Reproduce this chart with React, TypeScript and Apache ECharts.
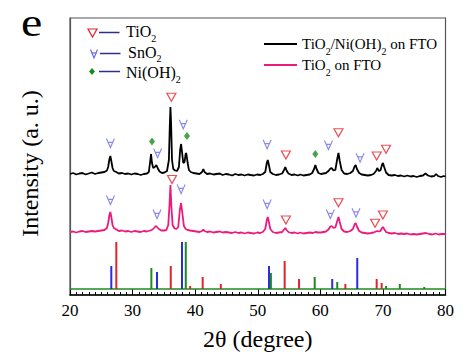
import React, { useEffect, useRef } from 'react';
import * as echarts from 'echarts';

const F = "'Liberation Serif', 'Times New Roman', serif";

// 2θ (degree), intensity (a.u.) — TiO2/Ni(OH)2 on FTO
const blackCurve: number[][] = [
  [20.0, 121], [20.5, 122], [21.0, 120.5], [21.5, 121.5], [22.0, 122], [22.5, 120.5], [23.0, 121.5], [23.5, 122.5],
  [24.0, 121], [24.5, 122], [25.0, 122.5], [25.5, 123], [25.9, 124.5], [26.1, 128], [26.3, 136], [26.45, 139],
  [26.6, 134], [26.8, 127], [27.0, 124], [27.4, 123], [27.8, 121.5], [28.3, 122], [28.8, 121], [29.3, 121.5],
  [29.8, 120.5], [30.3, 121.5], [30.8, 121], [31.3, 120], [31.8, 121], [32.3, 121.5], [32.6, 123], [32.8, 133],
  [32.95, 141], [33.1, 132], [33.3, 127], [33.55, 128], [33.8, 130], [34.0, 127], [34.3, 123.5], [34.7, 122],
  [35.1, 122.5], [35.5, 124], [35.8, 135], [35.95, 170], [36.05, 188], [36.15, 172], [36.3, 135], [36.5, 126],
  [36.8, 124.5], [37.1, 124], [37.4, 128], [37.6, 145], [37.75, 151], [37.9, 143], [38.1, 132], [38.3, 133],
  [38.5, 142], [38.6, 141], [38.8, 132], [39.0, 125], [39.3, 123], [39.7, 122], [40.2, 121.5], [40.7, 121],
  [41.1, 123], [41.3, 126], [41.5, 123], [41.9, 121], [42.4, 121.5], [42.9, 120.5], [43.4, 121], [43.9, 121.5],
  [44.4, 120], [44.9, 121], [45.4, 120.5], [45.9, 119.5], [46.4, 121], [46.9, 120], [47.4, 120.5], [47.9, 119.5],
  [48.4, 120.5], [48.9, 120], [49.4, 119.5], [49.9, 120.5], [50.4, 120], [50.8, 121], [51.2, 123], [51.45, 132],
  [51.6, 135], [51.75, 131], [52.0, 123], [52.4, 121], [52.9, 120], [53.4, 120.5], [53.9, 121.5], [54.2, 125],
  [54.4, 128], [54.6, 124.5], [54.9, 121.5], [55.4, 120], [55.9, 120.5], [56.4, 119.5], [56.8, 120.5], [57.3, 119.5],
  [57.8, 120], [58.3, 120.5], [58.7, 122], [59.0, 126], [59.2, 130], [59.4, 126], [59.7, 122], [60.1, 121],
  [60.5, 121.5], [60.9, 122], [61.3, 124], [61.6, 126.5], [61.8, 127], [62.1, 124.5], [62.4, 125], [62.7, 136],
  [62.9, 142], [63.1, 134], [63.4, 125], [63.8, 121.5], [64.3, 121], [64.8, 122], [65.2, 124], [65.5, 129],
  [65.65, 130], [65.85, 126], [66.2, 122], [66.6, 120.5], [67.1, 120], [67.6, 119.5], [68.1, 120], [68.5, 121],
  [68.9, 124], [69.1, 127], [69.35, 124], [69.6, 124.5], [69.85, 130], [70.0, 132], [70.2, 128], [70.5, 122.5],
  [70.9, 120], [71.4, 119.5], [71.9, 120], [72.4, 119], [72.9, 119.5], [73.4, 118.5], [73.9, 119.5], [74.4, 118.5],
  [74.9, 119], [75.4, 118], [75.9, 119], [76.4, 119.5], [76.8, 121.5], [77.2, 119.5], [77.7, 118.5], [78.2, 119],
  [78.5, 121], [78.8, 119], [79.3, 118], [79.7, 119], [80.0, 118.5],
];

// TiO2 on FTO
const pinkCurve: number[][] = [
  [20.0, 63], [20.5, 63.5], [21.0, 62.5], [21.5, 63.5], [22.0, 64], [22.5, 63], [23.0, 63.5], [23.5, 64],
  [24.0, 63.5], [24.5, 64], [25.0, 64.5], [25.5, 65], [25.9, 67], [26.1, 72], [26.3, 80], [26.45, 83],
  [26.6, 78], [26.8, 70], [27.0, 67], [27.4, 65.5], [27.8, 64], [28.3, 64.5], [28.8, 63.5], [29.3, 64],
  [29.8, 63], [30.3, 64], [30.8, 63.5], [31.3, 63], [31.8, 64], [32.3, 63.5], [32.8, 64.5], [33.2, 65.5],
  [33.5, 67.5], [33.7, 69], [33.9, 68], [34.2, 66], [34.6, 64.5], [35.0, 64.5], [35.4, 65], [35.7, 70],
  [35.9, 90], [36.05, 110], [36.2, 88], [36.4, 70], [36.7, 66.5], [37.0, 66], [37.3, 68], [37.55, 85],
  [37.75, 92], [37.95, 82], [38.2, 69], [38.5, 66], [38.8, 65], [39.2, 64.5], [39.7, 64], [40.2, 63.5],
  [40.7, 63], [41.1, 64], [41.3, 65.5], [41.5, 64], [41.9, 63], [42.4, 63.5], [42.9, 62.5], [43.4, 63],
  [43.9, 63.5], [44.4, 62.5], [44.9, 63], [45.4, 62.5], [45.9, 62], [46.4, 63], [46.9, 62], [47.4, 62.5],
  [47.9, 61.5], [48.4, 62.5], [48.9, 62], [49.4, 61.5], [49.9, 62.5], [50.4, 62], [50.8, 63], [51.2, 66],
  [51.45, 75], [51.6, 78], [51.75, 74], [52.0, 66], [52.4, 63], [52.9, 62], [53.4, 62.5], [53.9, 63],
  [54.2, 65.5], [54.4, 67], [54.6, 65], [54.9, 63], [55.4, 62], [55.9, 62.5], [56.4, 61.5], [56.8, 62.5],
  [57.3, 61.5], [57.8, 62], [58.3, 62.5], [58.8, 62], [59.2, 63], [59.6, 62.5], [60.1, 62.5], [60.5, 63],
  [60.9, 63.5], [61.3, 65.5], [61.6, 68.5], [61.8, 69], [62.1, 67], [62.4, 67.5], [62.7, 74], [62.9, 78],
  [63.1, 73], [63.4, 66], [63.8, 63.5], [64.3, 63], [64.8, 64], [65.2, 66], [65.5, 71], [65.65, 72],
  [65.85, 68.5], [66.2, 64], [66.6, 62.5], [67.1, 62], [67.6, 61.5], [68.1, 62], [68.5, 62.5], [68.9, 63.5],
  [69.1, 64], [69.35, 63.5], [69.6, 64], [69.85, 67], [70.0, 68], [70.2, 66], [70.5, 63], [70.9, 62],
  [71.4, 61.5], [71.9, 62], [72.4, 61], [72.9, 61.5], [73.4, 61], [73.9, 61.5], [74.4, 60.5], [74.9, 61],
  [75.4, 60.5], [75.9, 61], [76.4, 61.5], [76.9, 62], [77.4, 61], [77.9, 60.5], [78.4, 61.5], [78.9, 60.5],
  [79.4, 61], [80.0, 61],
];

// reference pattern sticks [2θ, relative height]
const stickBase = 6;
const tio2Sticks: number[][] = [
  [27.4, 53], [36.1, 29], [39.2, 9], [41.2, 18], [44.1, 11], [54.3, 34], [56.6, 16], [64.0, 11], [69.0, 16], [69.8, 12],
];
const sno2Sticks: number[][] = [
  [26.6, 29], [33.9, 23], [37.9, 53], [51.8, 29], [61.9, 16], [65.9, 37],
];
const niohSticks: number[][] = [
  [33.0, 27], [38.5, 53], [52.1, 22], [59.1, 18], [62.7, 13], [70.5, 9], [72.7, 11], [76.6, 8],
];

// peak markers [2θ, height]
const blackTiO2Marks: number[][] = [[36.2, 197.7], [54.5, 140], [62.9, 162.3], [69.0, 139], [70.5, 145.7]];
const blackSnO2Marks: number[][] = [[26.46, 152], [34.0, 142], [38.1, 170.7], [51.5, 150.7], [61.3, 150], [66.35, 137.3]];
const blackNiMarks: number[][] = [[33.1, 153.5], [38.7, 159], [59.2, 141]];
const pinkTiO2Marks: number[][] = [[36.3, 115.5], [54.5, 75], [62.9, 92.3], [68.75, 71.7], [70.0, 80]];
const pinkSnO2Marks: number[][] = [[26.46, 95], [33.9, 81], [37.75, 106], [51.5, 91], [61.6, 81], [65.7, 82.3]];

const RED = '#e3232b';
const BLUE = '#2b2be0';
const GREEN = '#1e8a1e';
const MBLUE = '#6a6ae6';
const PINK = '#ec1a7c';

const SN_PATH = 'path://M0,0L5,10L10,0M1.8,4.2L8.2,4.2';

const richSub = (size: number, subSize: number, shift: number) => ({
  n: { fontSize: size, fontFamily: F, fill: '#000' },
  s: { fontSize: subSize, fontFamily: F, fill: '#000', lineHeight: subSize, padding: [shift, 0, -shift, 0] },
});

function stickSeries(data: number[][], color: string) {
  return {
    type: 'custom',
    data,
    silent: true,
    renderItem: (_p: any, api: any) => {
      const x = api.value(0);
      const h = api.value(1);
      const p0 = api.coord([x, stickBase]);
      const p1 = api.coord([x, h]);
      return {
        type: 'line',
        shape: { x1: p0[0], y1: p0[1], x2: p1[0], y2: p1[1] },
        style: { stroke: color, lineWidth: 2 },
      };
    },
    z: 3,
  };
}

export default function App() {
  const ref = useRef<HTMLDivElement>(null);
  useEffect(() => {
    const chart = echarts.init(ref.current!, undefined, { renderer: 'svg' });
    chart.setOption({
      animation: false,
      backgroundColor: '#fff',
      textStyle: { fontFamily: F },
      grid: { left: 70, right: 28.5, top: 18, bottom: 69, show: true, borderColor: '#555', borderWidth: 1.2 },
      xAxis: {
        type: 'value', min: 20, max: 80, interval: 10,
        axisLine: { show: true, lineStyle: { color: '#000', width: 1.5 } },
        axisTick: { show: true, inside: true, length: 6, lineStyle: { color: '#000', width: 1 } },
        minorTick: { show: true, splitNumber: 10, length: 3, lineStyle: { color: '#000', width: 1 } },
        splitLine: { show: false },
        axisLabel: {
          margin: 7,
          formatter: (v: number) => `{t|${v}}`,
          rich: { t: { fontFamily: F, fontSize: 17, color: '#000' } },
        },
        name: '{t|2θ (degree)}', nameLocation: 'middle', nameGap: 32,
        nameTextStyle: { rich: { t: { fontFamily: F, fontSize: 24, color: '#000' } } },
      },
      yAxis: {
        type: 'value', min: 0, max: 277,
        axisLine: { show: true, lineStyle: { color: '#555', width: 1.2 } },
        axisTick: { show: false }, axisLabel: { show: false }, splitLine: { show: false },
        name: '{t|Intensity (a. u.)}', nameLocation: 'middle', nameGap: 28,
        nameTextStyle: { padding: [0, 14, 0, 0], rich: { t: { fontFamily: F, fontSize: 24, color: '#000' } } },
      },
      series: [
        { type: 'line', data: [[20, stickBase], [80, stickBase]], symbol: 'none', lineStyle: { color: GREEN, width: 1.5 }, z: 2 },
        stickSeries(tio2Sticks, RED),
        stickSeries(sno2Sticks, BLUE),
        stickSeries(niohSticks, GREEN),
        { name: 'TiO2 on FTO', type: 'line', data: pinkCurve, symbol: 'none', lineStyle: { color: PINK, width: 1.8 }, z: 4 },
        { name: 'TiO2/Ni(OH)2 on FTO', type: 'line', data: blackCurve, symbol: 'none', lineStyle: { color: '#000', width: 1.8 }, z: 4 },
        {
          type: 'scatter', data: [...blackTiO2Marks, ...pinkTiO2Marks], symbol: 'triangle', symbolRotate: 180, symbolSize: [9, 8],
          itemStyle: { color: '#fff', borderColor: RED, borderWidth: 1.2 }, z: 5,
        },
        {
          type: 'scatter', data: [...blackSnO2Marks, ...pinkSnO2Marks], symbol: SN_PATH, symbolSize: [8, 9],
          itemStyle: { color: 'rgba(0,0,0,0)', borderColor: MBLUE, borderWidth: 1.2 }, z: 5,
        },
        {
          type: 'scatter', data: blackNiMarks, symbol: 'diamond', symbolSize: [6, 8],
          itemStyle: { color: GREEN }, z: 5,
        },
      ],
      graphic: [
        { type: 'text', x: 21, y: 23, scaleX: 1.2, style: { text: '{e|e}', rich: { e: { fontFamily: F, fontSize: 40, fill: '#000', lineHeight: 30 } }, verticalAlign: 'middle' } },
        // left legend
        { type: 'polygon', shape: { points: [[88, 29], [97, 29], [92.5, 37]] }, style: { fill: '#fff', stroke: RED, lineWidth: 1.2 } },
        { type: 'line', shape: { x1: 99, y1: 32.5, x2: 119.5, y2: 32.5 }, style: { stroke: '#2e2e8c', lineWidth: 1.5 } },
        { type: 'text', x: 126, y: 31, style: { text: '{n|TiO}{s|2}', rich: richSub(16, 10, 7), verticalAlign: 'middle' } },
        { type: 'polyline', shape: { points: [[90.5, 49.5], [94, 58], [97.5, 49.5]] }, style: { fill: 'none', stroke: MBLUE, lineWidth: 1.2 } },
        { type: 'line', shape: { x1: 91.5, y1: 53, x2: 96.5, y2: 53 }, style: { stroke: MBLUE, lineWidth: 1.2 } },
        { type: 'line', shape: { x1: 100, y1: 53.5, x2: 120.5, y2: 53.5 }, style: { stroke: '#2e2e8c', lineWidth: 1.5 } },
        { type: 'text', x: 128, y: 52.5, style: { text: '{n|SnO}{s|2}', rich: richSub(16, 10, 6), verticalAlign: 'middle' } },
        { type: 'polygon', shape: { points: [[92, 68], [95, 71.5], [92, 75], [89, 71.5]] }, style: { fill: GREEN } },
        { type: 'line', shape: { x1: 99, y1: 71.5, x2: 120, y2: 71.5 }, style: { stroke: '#2e2e8c', lineWidth: 1.5 } },
        { type: 'text', x: 126, y: 72.5, style: { text: '{n|Ni(OH)}{s|2}', rich: richSub(16, 10, 7), verticalAlign: 'middle' } },
        // right legend
        { type: 'line', shape: { x1: 264, y1: 44, x2: 297, y2: 44 }, style: { stroke: '#000', lineWidth: 2 } },
        { type: 'text', x: 302, y: 44, style: { text: '{n|TiO}{s|2}{n|/Ni(OH)}{s|2}{n| on FTO}', rich: richSub(15, 10, 7), verticalAlign: 'middle' } },
        { type: 'line', shape: { x1: 264, y1: 65, x2: 297, y2: 65 }, style: { stroke: PINK, lineWidth: 2 } },
        { type: 'text', x: 302, y: 65, style: { text: '{n|TiO}{s|2}{n| on FTO}', rich: richSub(15, 10, 7), verticalAlign: 'middle' } },
      ],
    });
    return () => chart.dispose();
  }, []);
  return <div ref={ref} style={{ position: 'fixed', left: 0, top: 0, width: 474, height: 364 }} />;
}
